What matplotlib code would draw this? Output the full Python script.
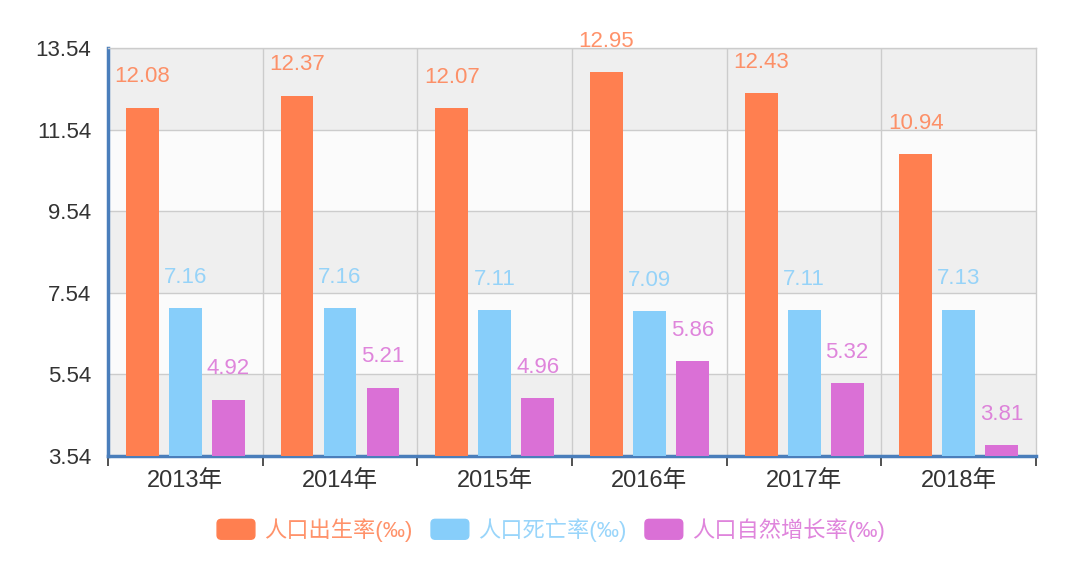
import numpy as np
import matplotlib
matplotlib.use("Agg")
import matplotlib.pyplot as plt
from matplotlib.patches import Patch, FancyBboxPatch
from matplotlib.legend_handler import HandlerPatch

plt.rcParams['font.family'] = ['Liberation Sans', 'Noto Sans CJK SC', 'DejaVu Sans']

# data
years = ["2013年", "2014年", "2015年", "2016年", "2017年", "2018年"]
birth_rate = [12.08, 12.37, 12.07, 12.95, 12.43, 10.94]
death_rate = [7.16, 7.16, 7.11, 7.09, 7.11, 7.13]
growth_rate = [4.92, 5.21, 4.96, 5.86, 5.32, 3.81]
series_names = ["人口出生率(‰)", "人口死亡率(‰)", "人口自然增长率(‰)"]
colors = ["#ff7f50", "#87cefa", "#da70d6"]
yticks = [3.54, 5.54, 7.54, 9.54, 11.54, 13.54]


# rounded legend keys
def rounded_key(legend, orig_handle, xdescent, ydescent, width, height, fontsize):
    return FancyBboxPatch((-xdescent, -ydescent), width, height,
                          boxstyle="round,pad=0,rounding_size=3")


fig = plt.figure(figsize=(10.8, 5.87), dpi=100)
ax = fig.add_axes([0.1, 0.2232, 0.8593, 0.695])

ymin, ymax = yticks[0], yticks[-1]
# alternating background bands
for i in range(len(yticks) - 1):
    c = "#efefef" if (len(yticks) - 2 - i) % 2 == 0 else "#fbfbfb"
    ax.axhspan(yticks[i], yticks[i + 1], color=c, zorder=0, lw=0)

x = np.arange(len(years))
width = 0.213
offsets = [-0.278, 0, 0.278]
for vals, off, col in zip([birth_rate, death_rate, growth_rate], offsets, colors):
    ax.bar(x + off, np.array(vals) - ymin, width, bottom=ymin, color=col, zorder=3)
    for xi, v in zip(x, vals):
        ax.text(xi + off, v + 0.5, f"{v:.2f}", ha="center", va="bottom",
                fontsize=16, color=col, alpha=0.85, zorder=4, clip_on=False)

ax.set_xlim(-0.5, len(years) - 0.5)
ax.set_ylim(ymin, ymax)

# grid
for t in yticks[1:]:
    ax.axhline(t, color="#cccccc", lw=1, zorder=1)
for b in np.arange(0.5, len(years) - 0.5, 1):
    ax.axvline(b, color="#cccccc", lw=1, zorder=1)

ax.set_yticks(yticks)
ax.set_yticklabels([f"{t:.2f}" for t in yticks], fontsize=16, color="#333333")
ax.set_xticks(x)
ax.set_xticklabels(years, fontsize=17, color="#333333")
ax.tick_params(axis="y", length=0, pad=12)
ax.tick_params(axis="x", length=0, pad=10)
# boundary ticks on the x axis
ax.set_xticks(np.arange(-0.5, len(years), 1), minor=True)
ax.tick_params(axis="x", which="minor", length=7, width=1.2, color="#333333")

for s in ["top", "right"]:
    ax.spines[s].set_color("#cccccc")
    ax.spines[s].set_linewidth(1)
ax.spines["left"].set_color("#4a7ebb")
ax.spines["left"].set_linewidth(2.5)
ax.spines["bottom"].set_color("#4a7ebb")
ax.spines["bottom"].set_linewidth(2.5)

handles = [Patch(facecolor=c, edgecolor=c) for c in colors]
leg = fig.legend(handles, series_names, loc="center", bbox_to_anchor=(0.51, 0.097),
                 ncol=3, frameon=False, fontsize=16, handlelength=1.7, handleheight=1.0,
                 handletextpad=0.4, columnspacing=0.85,
                 handler_map={Patch: HandlerPatch(patch_func=rounded_key)})
for txt, c in zip(leg.get_texts(), colors):
    txt.set_color(c)
    txt.set_alpha(0.85)

fig.savefig("out.png", dpi=100)
